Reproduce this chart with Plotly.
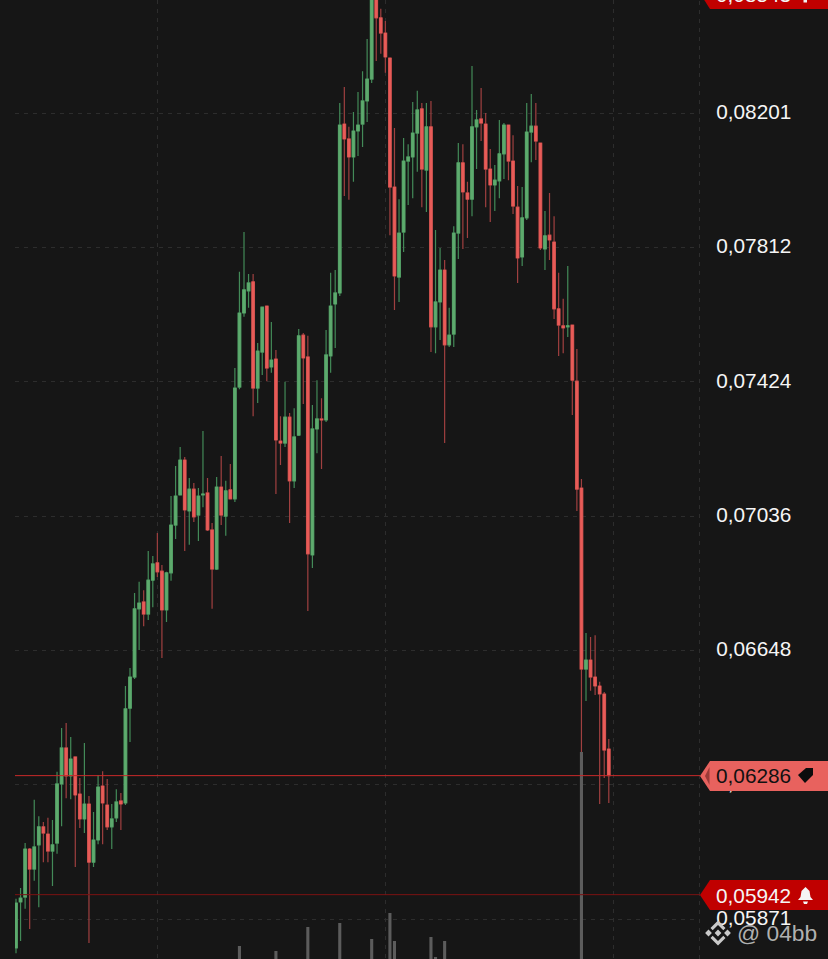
import numpy as np
import plotly.graph_objects as go

# prices in units of 0.00001
opens = [5788,5921,5935,6074,6016,6086,6138,6117,6068,6091,6262,6366,6285,6340,6233,6161,6204,6036,6100,6256,6201,6138,6164,6213,6207,6481,6571,6768,6788,6753,6851,6901,6877,6765,6872,7010,7097,7198,7051,7114,7039,7097,7103,6996,6883,7120,7036,7112,7086,7409,7623,7687,7713,7406,7510,7643,7467,7490,7253,7247,7322,7138,7270,7559,7496,6924,7288,7317,7314,7499,7649,7681,8169,8126,8074,8149,8169,8236,8299,8536,8476,8432,8360,7987,7727,7857,8062,8074,8143,8213,8036,8161,7583,7655,7747,7531,7562,7854,8057,7970,7952,8161,8184,8169,8039,7993,8005,8083,8166,8062,7929,7785,7898,8146,8163,8114,7808,7848,7828,7635,7586,7583,7588,7426,7117,6594,6620,6571,6545,6522,6363]
highs = [5930,5961,6091,6077,6216,6169,6152,6164,6158,6297,6424,6438,6398,6340,6279,6380,6227,6181,6288,6299,6276,6204,6247,6236,6545,6597,6814,6846,6822,6935,6921,6987,6895,6875,7094,7181,7236,7207,7146,7132,7117,7282,7146,7016,7149,7210,7138,7187,7464,7742,7857,7736,7736,7536,7640,7643,7597,7516,7325,7424,7334,7348,7577,7565,7557,7357,7429,7377,7574,7739,7747,8230,8276,8161,8204,8262,8322,8415,8551,8545,8502,8467,8360,8158,7952,8129,8111,8233,8265,8230,8230,8236,7863,7811,7776,7638,7874,8114,8111,8002,8337,8210,8273,8201,8097,8051,8181,8172,8166,8137,7990,7987,8230,8256,8230,8114,7918,7970,7903,7739,7664,7759,7588,7519,7143,6698,6687,6692,6557,6528,6392]
lows = [5773,5808,5901,5843,5982,5906,6036,6036,5967,6060,6140,6221,6218,6022,6135,6120,5802,6022,6088,6088,6129,6074,6152,6129,6201,6383,6565,6649,6718,6736,6773,6860,6626,6730,6849,6970,7097,6935,6953,7019,6964,7062,6993,6768,6880,7010,6979,7086,7077,7403,7612,7638,7325,7363,7444,7426,7450,7100,7184,7236,7016,7117,7268,7360,6762,6886,7218,7172,7308,7450,7522,7672,7961,7950,8002,8077,8103,8175,8288,8351,8372,8317,7848,7632,7655,7799,7935,7955,8031,7929,7915,7510,7507,7545,7247,7525,7525,7779,7808,7840,7903,8039,8120,7929,7886,7918,7955,8010,8007,7909,7710,7759,7892,8059,8065,7805,7747,7776,7606,7499,7507,7554,7328,7051,6236,6502,6531,6519,6204,6279,6207]
closes = [5918,5932,6074,6016,6080,6138,6120,6068,6086,6262,6366,6285,6334,6230,6161,6204,6036,6100,6253,6207,6138,6161,6210,6204,6479,6571,6768,6785,6753,6851,6898,6875,6765,6872,7010,7094,7198,7054,7114,7034,7094,7100,6996,6883,7120,7039,7109,7086,7406,7623,7690,7710,7406,7513,7640,7464,7487,7256,7247,7322,7138,7265,7557,7493,6927,7288,7317,7314,7502,7643,7681,8166,8126,8074,8149,8166,8236,8299,8536,8476,8432,8363,7987,7730,7854,8062,8074,8143,8210,8039,8161,7583,7655,7747,7531,7559,7854,8057,7973,7952,8161,8181,8172,8039,7993,8007,8083,8166,8062,7932,7782,7898,8146,8163,8120,7811,7846,7834,7635,7588,7580,7586,7429,7114,6594,6620,6571,6545,6522,6360,6286]

volume_index = [49, 57, 64, 71, 78, 82, 83, 91, 92, 94, 124]
volume_values = [13, 8, 32, 36, 20, 46, 18, 22, 2, 18, 207]

price_ticks = [0.08201, 0.07812, 0.07424, 0.07036, 0.06648, 0.0626, 0.05871]
price_tick_labels = ["0,08201", "0,07812", "0,07424", "0,07036", "0,06648", "0,0626", "0,05871"]
time_ticks = [31, 81, 131]

last_price = 0.06286
alert_price = 0.05942

BG = "#161616"
GRID = "#2d2d2d"
UP = "#5fab6e"
DOWN = "#e85c58"
UP_WICK = "#438a58"
DOWN_WICK = "#a04040"
FONT = "Liberation Sans"

W, H = 828, 959
def fx(x): return x / W
def fy(y): return 1 - y / H
def poly(points):
    return "M " + " L ".join(f"{fx(x):.5f},{fy(y):.5f}" for x, y in points) + " Z"

x = list(range(len(opens)))
o = np.array(opens) / 1e5
h = np.array(highs) / 1e5
l = np.array(lows) / 1e5
c = np.array(closes) / 1e5

fig = go.Figure()
fig.add_trace(go.Candlestick(
    x=x, open=o, high=h, low=l, close=c, hoverinfo="skip",
    increasing=dict(line=dict(color=UP_WICK, width=1.2), fillcolor=UP_WICK),
    decreasing=dict(line=dict(color=DOWN_WICK, width=1.2), fillcolor=DOWN_WICK),
))
fig.add_trace(go.Candlestick(
    x=x, open=o, high=o, low=c, close=c, hoverinfo="skip",
    increasing=dict(line=dict(color=UP, width=0.5), fillcolor=UP),
    decreasing=dict(line=dict(color=DOWN, width=0.5), fillcolor=DOWN),
))
fig.add_trace(go.Bar(
    x=volume_index, y=volume_values, width=0.68, yaxis="y2",
    marker=dict(color="#5c5c5c", line=dict(width=0)), hoverinfo="skip",
))
# carries the price labels, which sit a little above their grid lines
fig.add_trace(go.Scatter(
    x=[0], y=[price_ticks[0]], yaxis="y3", mode="markers",
    marker=dict(opacity=0), hoverinfo="skip",
))

def tag(points, color):
    return dict(type="path", xref="paper", yref="paper", path=poly(points),
                fillcolor=color, line=dict(width=0), layer="above")

shapes = [
    dict(type="line", xref="x domain", yref="y", x0=0, x1=1, y0=last_price, y1=last_price,
         line=dict(color="#c92a2a", width=1), layer="above"),
    dict(type="line", xref="x domain", yref="y", x0=0, x1=1, y0=alert_price, y1=alert_price,
         line=dict(color="#7c1212", width=1), layer="above"),
    dict(type="line", xref="paper", yref="paper", x0=fx(699.5), x1=fx(699.5), y0=0, y1=1,
         line=dict(color=GRID, width=1, dash="4px,5px"), layer="below"),
    # top alert tag, mostly out of the picture
    tag([(703, -2), (710, 9), (828, 9), (828, -2)], "#c00000"),
    tag([(803.5, 0), (807, 0), (807, 2.5), (803.5, 2.5)], "#f2f2f2"),
    # last price tag
    tag([(700, 776), (710, 761), (828, 761), (828, 791), (710, 791)], "#e8625e"),
    tag([(705, 776), (709.5, 767), (709.5, 785)], "#9c3a38"),
    tag([(798, 775), (806, 768), (813, 768), (813, 775), (805, 783)], "#0c0c0c"),
    # alert tag
    tag([(700, 895), (710, 880), (828, 880), (828, 910), (710, 910)], "#c00000"),
    tag([(798, 900), (800.5, 897), (801.5, 891), (805.5, 887), (809.5, 891), (810.5, 897),
         (813, 900)], "#f5f5f5"),
    tag([(803, 901.5), (808, 901.5), (807, 904), (804, 904)], "#f5f5f5"),
]

# watermark logo
LOGO = "#c9c9c9"
cx, cy, r = 718, 933, 3.4
for dx, dy in [(-9.5, 0), (9.5, 0), (0, 0)]:
    shapes.append(tag([(cx + dx - r, cy + dy), (cx + dx, cy + dy - r),
                       (cx + dx + r, cy + dy), (cx + dx, cy + dy + r)], LOGO))
shapes.append(tag([(cx - 7.5, cy - 5), (cx, cy - 12.5), (cx + 7.5, cy - 5), (cx + 5.3, cy - 2.8),
                   (cx, cy - 8.1), (cx - 5.3, cy - 2.8)], LOGO))
shapes.append(tag([(cx - 7.5, cy + 5), (cx, cy + 12.5), (cx + 7.5, cy + 5), (cx + 5.3, cy + 2.8),
                   (cx, cy + 8.1), (cx - 5.3, cy + 2.8)], LOGO))

def label(text, px, py, color, size=20.8):
    return dict(text=text, xref="paper", yref="paper", x=fx(px), y=fy(py), showarrow=False,
                xanchor="left", yanchor="middle", font=dict(family=FONT, size=size, color=color))

grid_range = [0.057561, 0.085276]
label_shift = 0.000043

fig.update_layout(
    width=W, height=H, margin=dict(l=0, r=0, t=0, b=0), autosize=False,
    paper_bgcolor=BG, plot_bgcolor=BG, showlegend=False, boxgap=0.18,
    shapes=shapes,
    annotations=[
        label("0,08543", 714, -5, "#f5f5f5"),
        label("0,06286", 714, 775.5, "#111111"),
        label("0,05942", 714, 895, "#f5f5f5"),
        label("@ 04bb", 735, 933, "rgba(205,205,205,0.85)", 22.8),
    ],
    xaxis=dict(domain=[fx(15), fx(700)], range=[-0.22, 150], rangeslider=dict(visible=False),
               tickmode="array", tickvals=time_ticks, ticktext=["", "", ""], ticks="",
               showgrid=True, gridcolor=GRID, gridwidth=1, griddash="4px,5px", zeroline=False,
               showline=False),
    yaxis=dict(domain=[0, 1], range=grid_range, side="right", anchor="x",
               tickmode="array", tickvals=price_ticks, showticklabels=False, ticks="",
               showgrid=True, gridcolor=GRID, gridwidth=1, griddash="4px,5px", zeroline=False,
               showline=False, automargin=False),
    yaxis2=dict(overlaying="y", range=[0, H], domain=[0, 1], visible=False, fixedrange=True),
    yaxis3=dict(overlaying="y", domain=[0, 1], side="right", anchor="x",
                range=[grid_range[0] - label_shift, grid_range[1] - label_shift],
                tickmode="array", tickvals=price_ticks, ticktext=price_tick_labels,
                ticks="outside", ticklen=11, tickcolor="rgba(0,0,0,0)", tickwidth=0,
                tickfont=dict(family=FONT, size=20.8, color="#f5f5f5"),
                showgrid=False, zeroline=False, showline=False, automargin=False),
)

fig.write_html("out.html", config={"displayModeBar": False},
               post_script="document.body.style.margin='0';document.body.style.background='#161616';")
